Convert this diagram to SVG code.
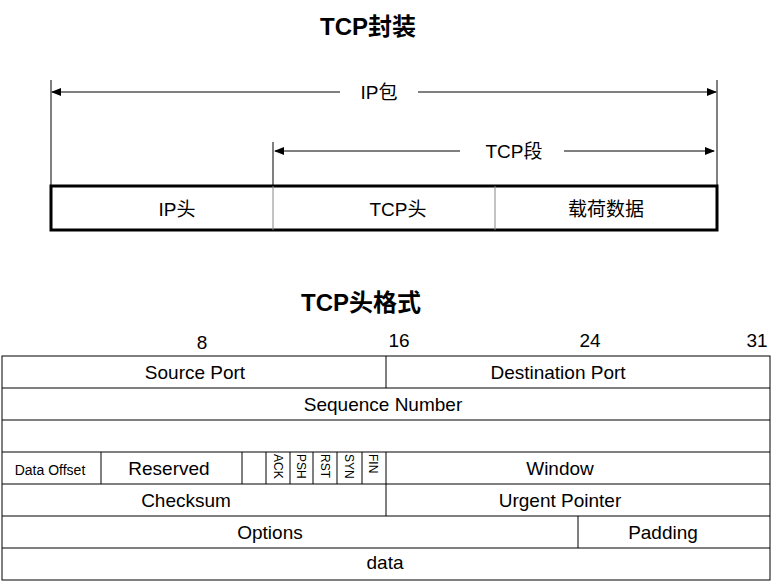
<svg xmlns="http://www.w3.org/2000/svg" width="783" height="586" viewBox="0 0 783 586">
<style>
text{font-family:"Liberation Sans","Noto Sans CJK SC",sans-serif;fill:#000}
.t{font-size:19px;text-anchor:middle}
.h{font-size:24px;font-weight:bold;text-anchor:middle}
.c{stroke:#000;stroke-width:1;fill:none}
.f{font-size:12px}
</style>
<defs><marker id="a" markerWidth="10" markerHeight="8" refX="9" refY="4" orient="auto-start-reverse" markerUnits="userSpaceOnUse"><path d="M0,0 L10,4 L0,8 Z" fill="#000"/></marker></defs>
<text class="h" x="368" y="35">TCP封装</text>
<g id="connectors">
<line class="c" x1="51" y1="80" x2="51" y2="185"/>
<line class="c" x1="717" y1="80" x2="717" y2="185"/>
<line class="c" x1="273" y1="142" x2="273" y2="185"/>
<line class="c" x1="52" y1="92" x2="340" y2="92" marker-start="url(#a)"/>
<line class="c" x1="418" y1="92" x2="716" y2="92" marker-end="url(#a)"/>
<line class="c" x1="275" y1="151" x2="460" y2="151" marker-start="url(#a)"/>
<line class="c" x1="564" y1="151" x2="714" y2="151" marker-end="url(#a)"/>
</g>
<text class="t" x="379" y="99" font-size="21">IP包</text>
<text class="t" x="514" y="158">TCP段</text>
<g id="ippacket">
<rect x="51" y="186" width="666" height="44" fill="#fff" stroke="#000" stroke-width="3"/>
<line x1="273" y1="186" x2="273" y2="230" stroke="#888"/>
<line x1="495" y1="186" x2="495" y2="230" stroke="#888"/>
<text class="t" x="177" y="216" font-size="23">IP头</text>
<text class="t" x="398" y="216" font-size="23">TCP头</text>
<text class="t" x="606" y="216" font-size="23">载荷数据</text>
</g>
<text class="h" x="361" y="311">TCP头格式</text>
<g font-size="19">
<text class="t" x="202" y="349">8</text>
<text class="t" x="399" y="347">16</text>
<text class="t" x="590" y="347">24</text>
<text class="t" x="757" y="347">31</text>
</g>
<g id="table" stroke="#000" fill="none">
<rect x="2" y="356" width="768" height="224"/>
<line x1="2" y1="388" x2="770" y2="388"/>
<line x1="2" y1="420" x2="770" y2="420"/>
<line x1="2" y1="452" x2="770" y2="452"/>
<line x1="2" y1="484" x2="770" y2="484"/>
<line x1="2" y1="516" x2="770" y2="516"/>
<line x1="2" y1="548" x2="770" y2="548"/>
<line x1="386" y1="356" x2="386" y2="388"/>
<line x1="386" y1="452" x2="386" y2="516"/>
<line x1="101" y1="452" x2="101" y2="484"/>
<line x1="242" y1="452" x2="242" y2="484"/>
<line x1="266" y1="452" x2="266" y2="484"/>
<line x1="290" y1="452" x2="290" y2="484"/>
<line x1="313" y1="452" x2="313" y2="484"/>
<line x1="337" y1="452" x2="337" y2="484"/>
<line x1="362" y1="452" x2="362" y2="484"/>
<line x1="578" y1="516" x2="578" y2="548"/>
</g>
<g class="t" font-size="18">
<text class="t" x="195" y="379" font-size="18">Source Port</text>
<text class="t" x="558" y="379" font-size="18">Destination Port</text>
<text class="t" x="383" y="411" font-size="18">Sequence Number</text>
<text x="50" y="475" font-size="14" text-anchor="middle">Data Offset</text>
<text class="t" x="169" y="475" font-size="18">Reserved</text>
<text class="t" x="560" y="475" font-size="18">Window</text>
<text class="t" x="186" y="507" font-size="18">Checksum</text>
<text class="t" x="560" y="507" font-size="18">Urgent Pointer</text>
<text class="t" x="270" y="539" font-size="18">Options</text>
<text class="t" x="663" y="539" font-size="18">Padding</text>
<text class="t" x="385" y="569" font-size="18">data</text>
</g>
<g class="f">
<text transform="translate(274,454) rotate(90)">ACK</text>
<text transform="translate(297,454) rotate(90)">PSH</text>
<text transform="translate(321,454) rotate(90)">RST</text>
<text transform="translate(345,454) rotate(90)">SYN</text>
<text transform="translate(369,454) rotate(90)">FIN</text>
</g>
</svg>
